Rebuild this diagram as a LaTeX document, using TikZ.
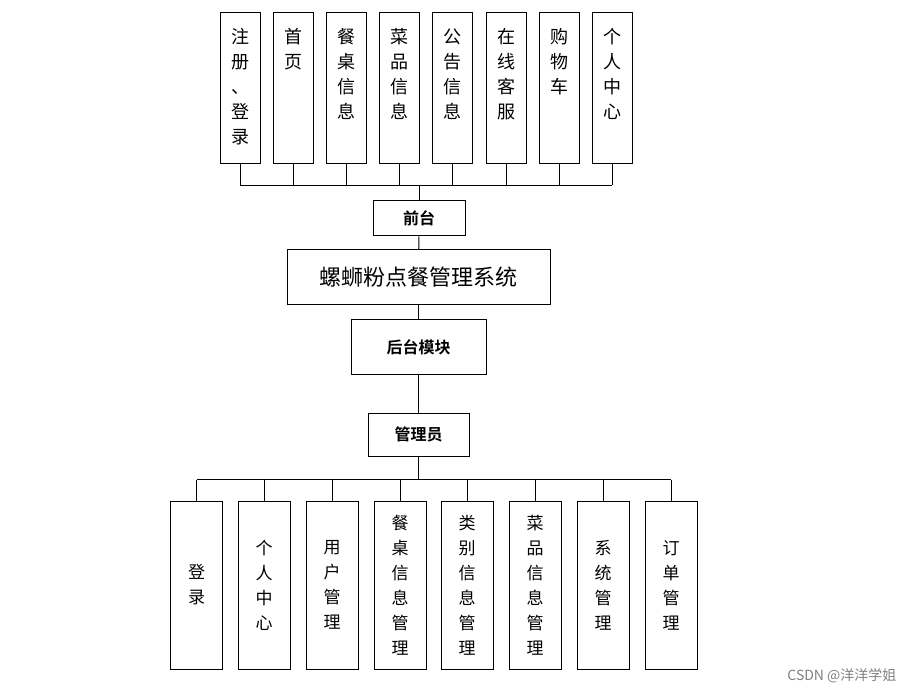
\documentclass[tikz,border=0pt]{standalone}
\usepackage{fontspec}
\setmainfont{Noto Sans CJK SC}
\newfontfamily\bfcjk{Noto Sans CJK SC Bold}
\begin{document}
\begin{tikzpicture}[x=1pt,y=-1pt,
  bx/.style={draw,line width=1pt,inner sep=0pt,align=center},
  vt/.style={bx,font=\fontsize{18}{25}\selectfont},
  ln/.style={line width=1pt}]
\useasboundingbox (0,0) rectangle (910,692);
% top
\foreach \i/\x/\t in {1/240/注\\册\\、\\登\\录,2/293/首\\页,3/346/餐\\桌\\信\\息,4/399/菜\\品\\信\\息,5/452/公\\告\\信\\息,6/506/在\\线\\客\\服,7/559/购\\物\\车,8/612/个\\人\\中\\心}{
  \node[vt,minimum width=40pt,minimum height=151pt] (t\i) at (\x,88.5) {};
  \node[font=\fontsize{18}{25}\selectfont,align=center,anchor=north] (tt\i) at (\x,25) {\t};
  \draw[ln] (t\i.south) -- ++(0,21);
}
\draw[ln] (t1.south)++(0,21) -- ([yshift=-21pt]t8.south);
\coordinate (tb) at (419,185);
\node[bx,font=\fontsize{16}{16}\bfcjk,minimum width=92pt,minimum height=35pt] (qt) at (419,218.5) {前台};
\node[bx,font=\fontsize{22}{22}\selectfont,minimum width=263pt,minimum height=55pt] (sys) at (418.5,277.5) {螺蛳粉点餐管理系统};
\node[bx,font=\fontsize{16}{16}\bfcjk,minimum width=135pt,minimum height=55pt] (ht) at (418.5,347.5) {后台模块};
\node[bx,font=\fontsize{16}{16}\bfcjk,minimum width=101pt,minimum height=43pt] (gl) at (418.5,434.5) {管理员};
\draw[ln] (tb) -- (qt.north);
\draw[ln] (qt) -- (sys);
\draw[ln] (sys) -- (ht);
\draw[ln] (ht) -- (gl);
\coordinate (bb) at (418.5,480);
\draw[ln] (gl.south) -- (bb);
% bottom
\foreach \i/\x/\t in {1/196.5/登\\录,2/264/个\\人\\中\\心,3/332/用\\户\\管\\理,4/400/餐\\桌\\信\\息\\管\\理,5/467/类\\别\\信\\息\\管\\理,6/535/菜\\品\\信\\息\\管\\理,7/603/系\\统\\管\\理,8/671/订\\单\\管\\理}{
  \node[bx,minimum width=52pt,minimum height=168pt,font=\fontsize{17}{25}\selectfont] (b\i) at (\x,585) {\t};
  \draw[ln] (b\i.north) -- ++(0,-21);
}
\draw[ln] ([yshift=21pt]b1.north) -- ([yshift=21pt]b8.north);
\node[font=\fontsize{14}{14}\selectfont,text=gray,anchor=east] (wm) at (900,676) {CSDN @洋洋学姐};
\end{tikzpicture}
\end{document}
